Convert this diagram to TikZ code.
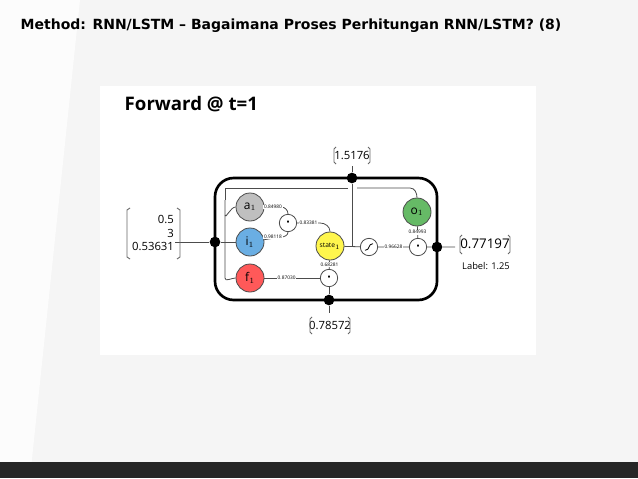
\documentclass[tikz,border=0pt]{standalone}
\usepackage{fontspec}
\setmainfont{Open Sans}
\newfontfamily\hdr{DejaVu Sans}
\begin{document}
\begin{tikzpicture}[x=0.75pt,y=-0.75pt,
 thin line/.style={draw=black!70,line width=0.6pt},
 gate/.style={circle,draw=black!70,line width=0.6pt,minimum size=21pt,inner sep=0pt,font=\fontsize{9}{9}\selectfont},
 op/.style={circle,draw=black!70,fill=white,line width=0.6pt,minimum size=13pt,inner sep=0pt,font=\fontsize{7}{7}\selectfont},
 dot/.style={circle,fill=black,minimum size=8pt,inner sep=0pt},
 val/.style={font=\fontsize{3.6}{4}\selectfont,inner sep=0.5pt,fill=white},
 vec/.style={font=\fontsize{8.5}{10}\selectfont}]
\useasboundingbox (0,0) rectangle (638,478);
\fill[black!4] (0,0) rectangle (638,478);
\fill[black!1] (0,0) -- (80,0) -- (30,478) -- (0,478) -- cycle;
\fill[black!85] (0,462) rectangle (638,478);
\node[anchor=west,font=\hdr\bfseries\fontsize{10.5}{12}\selectfont] (hdr) at (16,26) {Method: RNN/LSTM – Bagaimana Proses Perhitungan RNN/LSTM? (8)};
\fill[white] (100,86) rectangle (536,355);
\node[anchor=west,font=\bfseries\fontsize{14}{16}\selectfont] (title) at (120,104) {Forward @ t=1};
% main box
\draw[line width=2pt,rounded corners=14pt] (215,178) rectangle (437,300);
% nodes
\node[dot] (L) at (215,242) {};
\node[dot] (R) at (437,247) {};
\node[dot] (T) at (352,178) {};
\node[dot] (B) at (329,300) {};
\node[gate,fill=black!25] (a) at (250,207) {a$_1$};
\node[gate,fill=cyan!70!blue!60] (i) at (250,242) {i$_1$};
\node[gate,fill=red!65] (f) at (250,278) {f$_1$};
\node[gate,fill=green!55!black!60] (o) at (417,212) {o$_1$};
\node[gate,fill=yellow!70,font=\fontsize{5}{5}\selectfont] (s) at (330,246) {state$_1$};
\node[op] (m1) at (288,223) {\textbullet};
\node[op] (mf) at (329,278) {\textbullet};
\node[op] (th) at (369,247) {};
\node[op] (mo) at (418,247) {\textbullet};
\draw[line width=0.6pt] ([xshift=-3pt,yshift=-2.5pt]th.center) .. controls ([xshift=1pt,yshift=-2.5pt]th.center) and ([xshift=-1pt,yshift=2.5pt]th.center) .. ([xshift=3pt,yshift=2.5pt]th.center);
\coordinate (v1) at (225,188);
\coordinate (v2) at (225,278);
% input lines
\draw[thin line] (175,242) -- (L) -- (i);
\draw[thin line] (225,200) -- (v2) to[out=-90,in=180] (f.west);
\draw[thin line] (225,215) to[out=-90,in=180] (a.west);
\draw[thin line] (225,200) -- (v1) -- (348,188);
\draw[thin line] (357,188) -- (410,188) to[out=0,in=90] (o.north);
\draw[thin line] (T) -- (352,247);
\draw[thin line] (s) -- (th) -- node[val]{0.96628} (mo) -- (R) -- (455,247);
\draw[thin line] (a) -- (281,207) to[out=0,in=90] (m1.north);
\node[val] (la) at (273,207) {0.84980};
\draw[thin line] (i) -- (281,237) to[out=0,in=-90] (m1.south);
\node[val] (li) at (273,237) {0.98118};
\draw[thin line] (m1) -- node[val]{0.83381} (320,223) to[out=0,in=90] (s.north);
\draw[thin line] (f) -- node[val,pos=0.4]{0.87030} (mf);
\draw[thin line] (s) -- node[val]{0.68281} (mf);
\draw[thin line] (o) -- node[val]{0.84993} (mo);
\draw[thin line] (mf) -- (B) -- (329,313);
\draw[thin line] (T) -- (352,166);
% vectors
\node[vec,align=right] (vin) at (153,233) {0.5\\3\\0.53631};
\draw[black!60,line width=0.7pt] (130,208) -- (127,210) -- (127,257) -- (130,259);
\draw[black!60,line width=0.7pt] (177,208) -- (180,210) -- (180,257) -- (177,259);
\node[vec] (vt) at (352,155) {1.5176};
\draw[black!60,line width=0.7pt] (336,147) -- (334,149) -- (334,162) -- (336,164);
\draw[black!60,line width=0.7pt] (368,147) -- (370,149) -- (370,162) -- (368,164);
\node[vec] (vb) at (330,325) {0.78572};
\draw[black!60,line width=0.7pt] (312,317) -- (310,319) -- (310,332) -- (312,334);
\draw[black!60,line width=0.7pt] (348,317) -- (350,319) -- (350,332) -- (348,334);
\node[vec,font=\fontsize{10}{11}\selectfont] (vo) at (485,244) {0.77197};
\draw[black!60,line width=0.7pt] (462,235) -- (460,237) -- (460,252) -- (462,254);
\draw[black!60,line width=0.7pt] (508,235) -- (510,237) -- (510,252) -- (508,254);
\node[font=\fontsize{7}{8}\selectfont] (lab) at (486,266) {Label: 1.25};
\end{tikzpicture}
\end{document}
